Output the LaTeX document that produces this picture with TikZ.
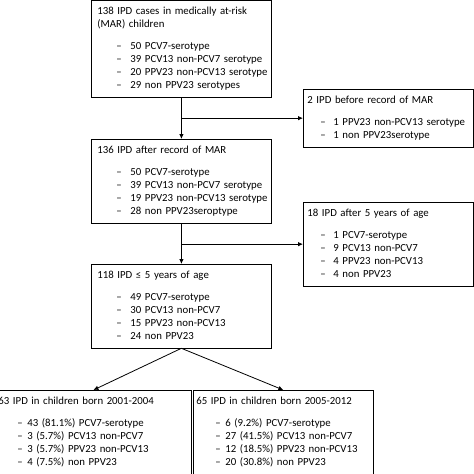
\documentclass[tikz,border=0pt]{standalone}
\usepackage{fontspec}
\setmainfont{Carlito}
\usetikzlibrary{arrows.meta}

% one line of a box: header line or bullet line
\newcommand{\itmskip}{19pt}
\newcommand{\itmdash}{14pt}
\newcommand{\hd}[1]{\strut\mbox{#1}}
\newcommand{\itm}[1]{\strut\hspace*{\itmskip}\makebox[\itmdash][l]{–}\mbox{#1}}

\tikzset{
  box/.style={draw, line width=0.8pt, anchor=north west, inner xsep=6pt,
    inner ysep=5pt, align=left, font=\fontsize{10.8}{13}\selectfont},
  mainbox/.style={box, text width=168pt},
  sidebox/.style={box, inner xsep=4pt, text width=162pt,
    execute at begin node={\renewcommand{\itmskip}{13pt}\renewcommand{\itmdash}{13pt}}},
  cohort/.style={box, inner xsep=3pt,
    execute at begin node={\renewcommand{\itmskip}{19pt}\renewcommand{\itmdash}{10pt}}},
  arr/.style={-{Latex[length=5pt,width=4.5pt]}, line width=0.8pt}
}

\begin{document}
\begin{tikzpicture}[x=1pt, y=-1pt]
\useasboundingbox (0,0) rectangle (474,474);

% Main column
\node[mainbox] (mar) at (91,0) {\hd{138 IPD cases in medically at-risk}\\\hd{(MAR) children}\\[8.5pt]\itm{50 PCV7-serotype}\\\itm{39 PCV13 non-PCV7 serotype}\\\itm{20 PPV23 non-PCV13 serotype}\\\itm{29 non PPV23 serotypes}};
\node[mainbox] (after) at (91,139) {\hd{136 IPD after record of MAR}\\[8.5pt]\itm{50 PCV7-serotype}\\\itm{39 PCV13 non-PCV7 serotype}\\\itm{19 PPV23 non-PCV13 serotype}\\\itm{28 non PPV23seroptype}};
\node[mainbox] (under5) at (91,264) {\hd{118 IPD ≤ 5 years of age}\\[8.5pt]\itm{49 PCV7-serotype}\\\itm{30 PCV13 non-PCV7}\\\itm{15 PPV23 non-PCV13}\\\itm{24 non PPV23}};

% Excluded
\node[sidebox] (before) at (303,89) {\hd{2 IPD before record of MAR}\\[8.5pt]\itm{1 PPV23 non-PCV13 serotype}\\\itm{1 non PPV23serotype}};
\node[sidebox] (older) at (303,202) {\hd{18 IPD after 5 years of age}\\[8.5pt]\itm{1 PCV7-serotype}\\\itm{9 PCV13 non-PCV7}\\\itm{4 PPV23 non-PCV13}\\\itm{4 non PPV23}};

% Birth cohorts
\node[cohort, text width=190pt] (born01) at (-5,390) {\hd{63 IPD in children born 2001-2004}\\[8.5pt]\itm{43 (81.1\%) PCV7-serotype}\\\itm{3 (5.7\%) PCV13 non-PCV7}\\\itm{3 (5.7\%) PPV23 non-PCV13}\\\itm{4 (7.5\%) non PPV23}};
\node[cohort, text width=174pt] (born05) at (193,390) {\hd{65 IPD in children born 2005-2012}\\[8.5pt]\itm{6 (9.2\%) PCV7-serotype}\\\itm{27 (41.5\%) PCV13 non-PCV7}\\\itm{12 (18.5\%) PPV23 non-PCV13}\\\itm{20 (30.8\%) non PPV23}};

% Connections
\draw[arr] (mar.south) -- (after.north);
\draw[arr] (mar.south |- before.west) -- (before.west);
\draw[arr] (after.south) -- (under5.north);
\draw[arr] (after.south |- older.west) -- (older.west);
\draw[arr] (under5.south) -- (born01.north);
\draw[arr] (under5.south) -- (born05.north);
\end{tikzpicture}
\end{document}
